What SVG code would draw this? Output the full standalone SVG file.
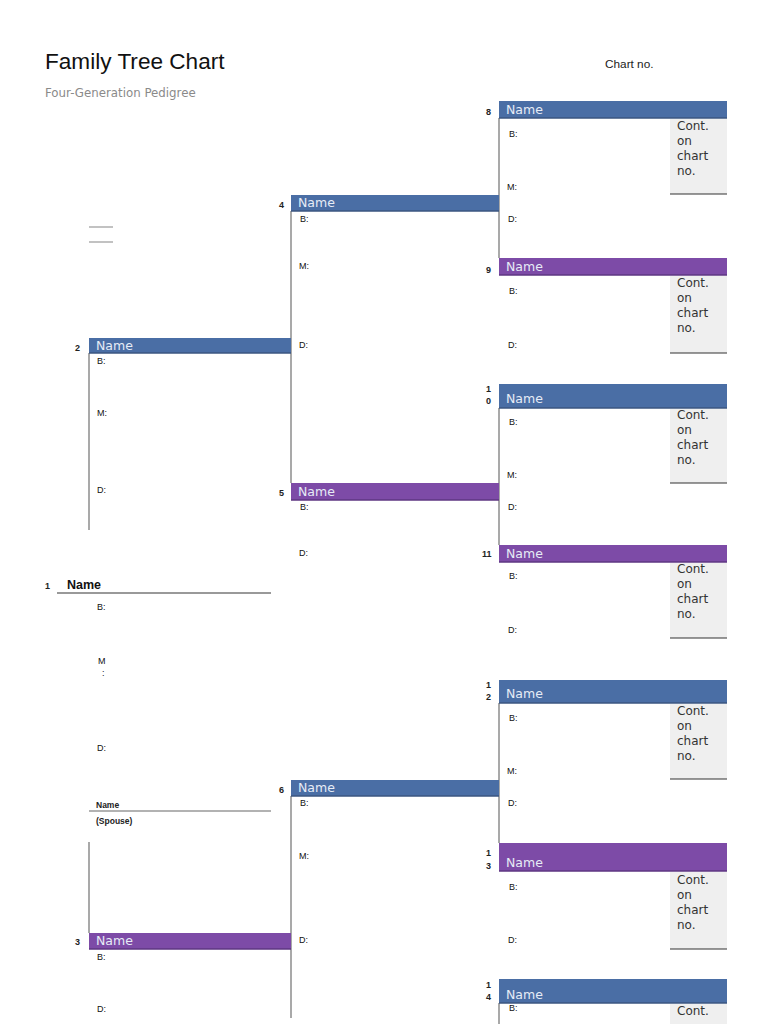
<svg xmlns="http://www.w3.org/2000/svg" width="768" height="1024" viewBox="0 0 768 1024">
<style>
.bg{fill:#ffffff}
.hb{fill:#4a6ea5}
.hp{fill:#7d4ba7}
.hline{stroke:#3b5680;stroke-width:1.5}
.pline{stroke:#5e3682;stroke-width:1.5}
.nm{font-family:"DejaVu Sans",sans-serif;font-size:12.5px;fill:#e6ecf6}
.lb{font-family:"Liberation Sans",Arial,sans-serif;font-size:9px;fill:#111}
.num{font-family:"Liberation Sans",Arial,sans-serif;font-size:9px;font-weight:bold;fill:#222}
.vl{stroke:#8c8c8c;stroke-width:1.5;fill:none}
.cont{fill:#efefef}
.cl{stroke:#333;stroke-width:1.2}
.ct{font-family:"DejaVu Sans",sans-serif;font-size:12px;fill:#333}
</style>
<rect class="bg" x="0" y="0" width="768" height="1024"/>
<g id="title">
<text x="45" y="69" font-family="Liberation Sans, Arial, sans-serif" font-size="22.6" fill="#111">Family Tree Chart</text>
<text x="45" y="97" font-family="DejaVu Sans, sans-serif" font-size="11.8" fill="#8a8a8a">Four-Generation Pedigree</text>
<text x="605" y="68" font-family="Liberation Sans, Arial, sans-serif" font-size="11.8" fill="#222">Chart no.</text>
<line x1="89" y1="227" x2="113" y2="227" stroke="#999" stroke-width="1.2"/>
<line x1="89" y1="242" x2="113" y2="242" stroke="#999" stroke-width="1.2"/>
</g>
<g id="connectors">
<line class="vl" x1="499" y1="118" x2="499" y2="258"/>
<line class="vl" x1="499" y1="408" x2="499" y2="545"/>
<line class="vl" x1="499" y1="703" x2="499" y2="843"/>
<line class="vl" x1="499" y1="1003" x2="499" y2="1024"/>
<line class="vl" x1="291" y1="211" x2="291" y2="483"/>
<line class="vl" x1="291" y1="796" x2="291" y2="1018"/>
<line class="vl" x1="89" y1="353" x2="89" y2="530"/>
<line class="vl" x1="89" y1="842" x2="89" y2="933"/>
</g>
<g id="p1">
<text class="num" x="45" y="589">1</text>
<text x="67" y="589" font-family="Liberation Sans, Arial, sans-serif" font-size="12.5" font-weight="bold" fill="#111">Name</text>
<line x1="57" y1="593" x2="271" y2="593" stroke="#777" stroke-width="1.5"/>
<text class="lb" x="97" y="610">B:</text>
<text class="lb" x="98" y="664">M</text>
<text class="lb" x="102" y="676">:</text>
<text class="lb" x="97" y="751">D:</text>
<text x="96" y="808" font-family="Liberation Sans, Arial, sans-serif" font-size="8.5" font-weight="bold" fill="#222">Name</text>
<line x1="89" y1="811" x2="271" y2="811" stroke="#666" stroke-width="1.2"/>
<text x="96" y="824" font-family="Liberation Sans, Arial, sans-serif" font-size="8.5" font-weight="bold" fill="#222">(Spouse)</text>
</g>
<g id="p2">
<text class="num" x="75" y="351">2</text>
<rect class="hb" x="89" y="338" width="202" height="15"/>
<line class="hline" x1="89" y1="353" x2="291" y2="353"/>
<text class="nm" x="96" y="350">Name</text>
<text class="lb" x="97" y="364">B:</text>
<text class="lb" x="97" y="416">M:</text>
<text class="lb" x="97" y="493">D:</text>
</g>
<g id="p3">
<text class="num" x="75" y="945">3</text>
<rect class="hp" x="89" y="933" width="202" height="16"/>
<line class="pline" x1="89" y1="949" x2="291" y2="949"/>
<text class="nm" x="96" y="945">Name</text>
<text class="lb" x="97" y="960">B:</text>
<text class="lb" x="97" y="1012">D:</text>
</g>
<g id="p4">
<text class="num" x="279" y="208">4</text>
<rect class="hb" x="291" y="195" width="208" height="16"/>
<line class="hline" x1="291" y1="211" x2="499" y2="211"/>
<text class="nm" x="298" y="207">Name</text>
<text class="lb" x="300" y="222">B:</text>
<text class="lb" x="299" y="269">M:</text>
<text class="lb" x="299" y="348">D:</text>
</g>
<g id="p5">
<text class="num" x="279" y="496">5</text>
<rect class="hp" x="291" y="483" width="208" height="17"/>
<line class="pline" x1="291" y1="500" x2="499" y2="500"/>
<text class="nm" x="298" y="496">Name</text>
<text class="lb" x="300" y="510">B:</text>
<text class="lb" x="299" y="556">D:</text>
</g>
<g id="p6">
<text class="num" x="279" y="793">6</text>
<rect class="hb" x="291" y="780" width="208" height="16"/>
<line class="hline" x1="291" y1="796" x2="499" y2="796"/>
<text class="nm" x="298" y="792">Name</text>
<text class="lb" x="300" y="806">B:</text>
<text class="lb" x="299" y="859">M:</text>
<text class="lb" x="299" y="943">D:</text>
</g>
<g id="p8">
<text class="num" x="486" y="115">8</text>
<rect class="hb" x="499" y="101" width="228" height="17"/>
<line class="hline" x1="499" y1="118" x2="727" y2="118"/>
<text class="nm" x="506" y="114">Name</text>
<text class="lb" x="509" y="137">B:</text>
<text class="lb" x="507" y="190">M:</text>
<text class="lb" x="508" y="222">D:</text>
<rect class="cont" x="670" y="119" width="57" height="75"/>
<line class="cl" x1="670" y1="194" x2="727" y2="194"/>
<text class="ct" x="677" y="130">Cont.</text><text class="ct" x="677" y="145">on</text><text class="ct" x="677" y="160">chart</text><text class="ct" x="677" y="175">no.</text>
</g>
<g id="p9">
<text class="num" x="486" y="273">9</text>
<rect class="hp" x="499" y="258" width="228" height="17"/>
<line class="pline" x1="499" y1="275" x2="727" y2="275"/>
<text class="nm" x="506" y="271">Name</text>
<text class="lb" x="509" y="294">B:</text>
<text class="lb" x="508" y="348">D:</text>
<rect class="cont" x="670" y="276" width="57" height="77"/>
<line class="cl" x1="670" y1="353" x2="727" y2="353"/>
<text class="ct" x="677" y="287">Cont.</text><text class="ct" x="677" y="302">on</text><text class="ct" x="677" y="317">chart</text><text class="ct" x="677" y="332">no.</text>
</g>
<g id="p10">
<text class="num" x="486" y="392">1</text><text class="num" x="486" y="404">0</text>
<rect class="hb" x="499" y="384" width="228" height="24"/>
<line class="hline" x1="499" y1="408" x2="727" y2="408"/>
<text class="nm" x="506" y="403">Name</text>
<text class="lb" x="509" y="425">B:</text>
<text class="lb" x="507" y="478">M:</text>
<text class="lb" x="508" y="510">D:</text>
<rect class="cont" x="670" y="409" width="57" height="74"/>
<line class="cl" x1="670" y1="483" x2="727" y2="483"/>
<text class="ct" x="677" y="419">Cont.</text><text class="ct" x="677" y="434">on</text><text class="ct" x="677" y="449">chart</text><text class="ct" x="677" y="464">no.</text>
</g>
<g id="p11">
<text class="num" x="482" y="557">11</text>
<rect class="hp" x="499" y="545" width="228" height="17"/>
<line class="pline" x1="499" y1="562" x2="727" y2="562"/>
<text class="nm" x="506" y="558">Name</text>
<text class="lb" x="509" y="579">B:</text>
<text class="lb" x="508" y="633">D:</text>
<rect class="cont" x="670" y="563" width="57" height="75"/>
<line class="cl" x1="670" y1="638" x2="727" y2="638"/>
<text class="ct" x="677" y="573">Cont.</text><text class="ct" x="677" y="588">on</text><text class="ct" x="677" y="603">chart</text><text class="ct" x="677" y="618">no.</text>
</g>
<g id="p12">
<text class="num" x="486" y="688">1</text><text class="num" x="486" y="700">2</text>
<rect class="hb" x="499" y="680" width="228" height="23"/>
<line class="hline" x1="499" y1="703" x2="727" y2="703"/>
<text class="nm" x="506" y="698">Name</text>
<text class="lb" x="509" y="721">B:</text>
<text class="lb" x="507" y="774">M:</text>
<text class="lb" x="508" y="806">D:</text>
<rect class="cont" x="670" y="704" width="57" height="75"/>
<line class="cl" x1="670" y1="779" x2="727" y2="779"/>
<text class="ct" x="677" y="715">Cont.</text><text class="ct" x="677" y="730">on</text><text class="ct" x="677" y="745">chart</text><text class="ct" x="677" y="760">no.</text>
</g>
<g id="p13">
<text class="num" x="486" y="856">1</text><text class="num" x="486" y="869">3</text>
<rect class="hp" x="499" y="843" width="228" height="28"/>
<line class="pline" x1="499" y1="871" x2="727" y2="871"/>
<text class="nm" x="506" y="867">Name</text>
<text class="lb" x="509" y="890">B:</text>
<text class="lb" x="508" y="943">D:</text>
<rect class="cont" x="670" y="872" width="57" height="77"/>
<line class="cl" x1="670" y1="949" x2="727" y2="949"/>
<text class="ct" x="677" y="884">Cont.</text><text class="ct" x="677" y="899">on</text><text class="ct" x="677" y="914">chart</text><text class="ct" x="677" y="929">no.</text>
</g>
<g id="p14">
<text class="num" x="486" y="988">1</text><text class="num" x="486" y="1000">4</text>
<rect class="hb" x="499" y="979" width="228" height="24"/>
<line class="hline" x1="499" y1="1003" x2="727" y2="1003"/>
<text class="nm" x="506" y="999">Name</text>
<text class="lb" x="509" y="1011">B:</text>
<rect class="cont" x="670" y="1004" width="57" height="20"/>
<text class="ct" x="677" y="1015">Cont.</text>
</g>
</svg>
